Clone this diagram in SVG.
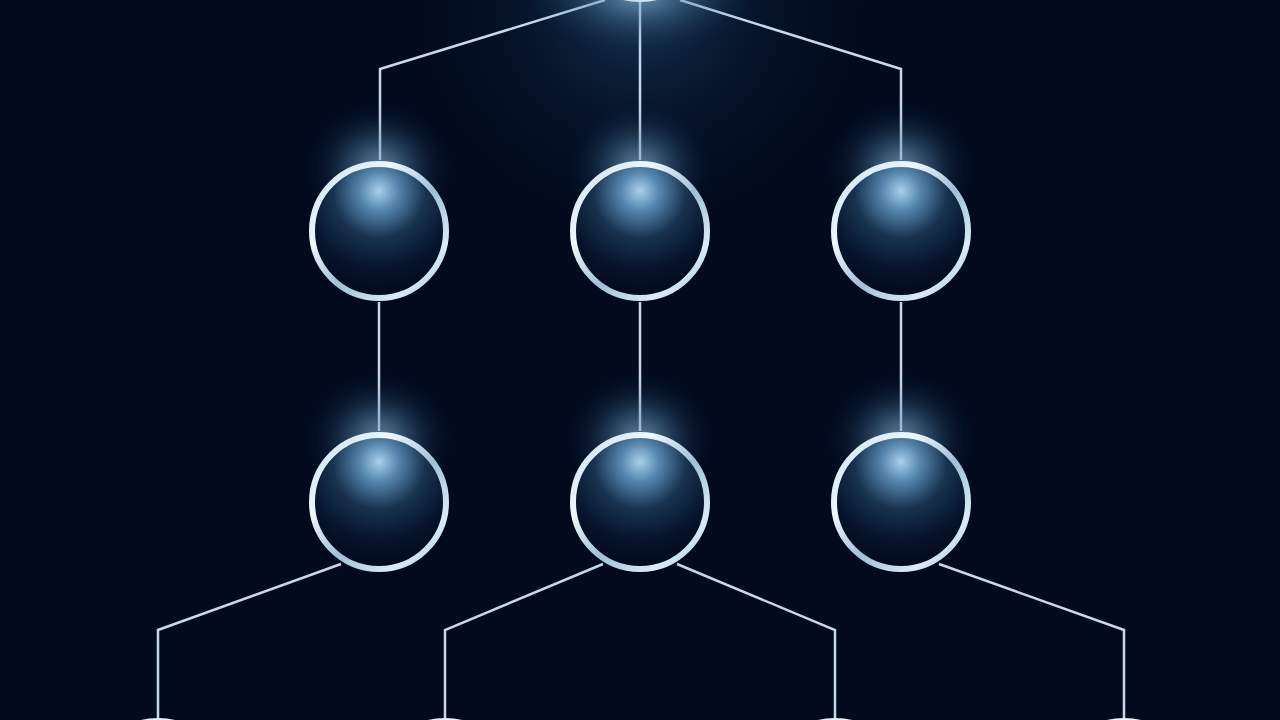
<svg xmlns="http://www.w3.org/2000/svg" width="1280" height="720" viewBox="0 0 1280 720">
  <defs>
    <radialGradient id="bgGlow" cx="640" cy="0" r="240" gradientUnits="userSpaceOnUse">
      <stop offset="0" stop-color="#1c3a5c" stop-opacity="0.9"/>
      <stop offset="0.5" stop-color="#0c2038" stop-opacity="0.45"/>
      <stop offset="1" stop-color="#020b1e" stop-opacity="0"/>
    </radialGradient>
    <radialGradient id="halo" cx="0.5" cy="0.5" r="0.5">
      <stop offset="0" stop-color="#a6d0ee" stop-opacity="0.8"/>
      <stop offset="0.5" stop-color="#4a7ea8" stop-opacity="0.42"/>
      <stop offset="1" stop-color="#1a3a5c" stop-opacity="0"/>
    </radialGradient>
    <radialGradient id="sphere" cx="0.5" cy="0.22" r="0.72" fx="0.5" fy="0.2">
      <stop offset="0" stop-color="#a9d0ec"/>
      <stop offset="0.2" stop-color="#5686ad"/>
      <stop offset="0.48" stop-color="#17324f"/>
      <stop offset="0.8" stop-color="#06132a"/>
      <stop offset="1" stop-color="#030c1f"/>
    </radialGradient>
    <linearGradient id="ring" x1="0" y1="0" x2="1" y2="1">
      <stop offset="0" stop-color="#c9e0ef"/>
      <stop offset="0.3" stop-color="#eef7fc"/>
      <stop offset="0.55" stop-color="#9fc0d6"/>
      <stop offset="0.8" stop-color="#d9ebf6"/>
      <stop offset="1" stop-color="#a5c6dc"/>
    </linearGradient>
    <filter id="blur" x="-60%" y="-60%" width="220%" height="220%">
      <feGaussianBlur stdDeviation="11"/>
    </filter>
  </defs>
  <style>
    .bg { fill: #020b1e; }
    .link { fill: none; stroke: #c5d9ea; stroke-width: 2.5; stroke-linejoin: miter; }
    .halo { fill: url(#halo); filter: url(#blur); }
    .ball { fill: url(#sphere); }
    .rim { fill: none; stroke: url(#ring); stroke-width: 6; }
  </style>

  <rect class="bg" x="0" y="0" width="1280" height="720"/>
  <rect x="0" y="0" width="1280" height="720" fill="url(#bgGlow)"/>

  <g id="connectors">
    <polyline class="link" points="605,0 380,69 380,160"/>
    <line class="link" x1="640" y1="0" x2="640" y2="160"/>
    <polyline class="link" points="680,0 901,69 901,160"/>
    <line class="link" x1="379" y1="302" x2="379" y2="431"/>
    <line class="link" x1="640" y1="302" x2="640" y2="431"/>
    <line class="link" x1="901" y1="302" x2="901" y2="431"/>
    <polyline class="link" points="341,564 158,630 158,720"/>
    <polyline class="link" points="603,564 445,630 445,720"/>
    <polyline class="link" points="677,564 835,630 835,720"/>
    <polyline class="link" points="939,564 1124,630 1124,720"/>
  </g>

  <g id="node-top">
    <ellipse class="halo" cx="640" cy="-10" rx="110" ry="55"/>
    <circle class="ball" cx="640" cy="-68" r="67"/>
    <circle class="rim" cx="640" cy="-68" r="67"/>
  </g>

  <g id="node-r1-left">
    <ellipse class="halo" cx="379" cy="168" rx="64" ry="56"/>
    <circle class="ball" cx="379" cy="231" r="67"/>
    <circle class="rim" cx="379" cy="231" r="67"/>
  </g>
  <g id="node-r1-mid">
    <ellipse class="halo" cx="640" cy="168" rx="64" ry="56"/>
    <circle class="ball" cx="640" cy="231" r="67"/>
    <circle class="rim" cx="640" cy="231" r="67"/>
  </g>
  <g id="node-r1-right">
    <ellipse class="halo" cx="901" cy="168" rx="64" ry="56"/>
    <circle class="ball" cx="901" cy="231" r="67"/>
    <circle class="rim" cx="901" cy="231" r="67"/>
  </g>

  <g id="node-r2-left">
    <ellipse class="halo" cx="379" cy="439" rx="64" ry="56"/>
    <circle class="ball" cx="379" cy="502" r="67"/>
    <circle class="rim" cx="379" cy="502" r="67"/>
  </g>
  <g id="node-r2-mid">
    <ellipse class="halo" cx="640" cy="439" rx="64" ry="56"/>
    <circle class="ball" cx="640" cy="502" r="67"/>
    <circle class="rim" cx="640" cy="502" r="67"/>
  </g>
  <g id="node-r2-right">
    <ellipse class="halo" cx="901" cy="439" rx="64" ry="56"/>
    <circle class="ball" cx="901" cy="502" r="67"/>
    <circle class="rim" cx="901" cy="502" r="67"/>
  </g>

  <g id="node-r3-1"><circle class="rim" cx="158" cy="788" r="67"/></g>
  <g id="node-r3-2"><circle class="rim" cx="445" cy="788" r="67"/></g>
  <g id="node-r3-3"><circle class="rim" cx="835" cy="788" r="67"/></g>
  <g id="node-r3-4"><circle class="rim" cx="1124" cy="788" r="67"/></g>
</svg>
